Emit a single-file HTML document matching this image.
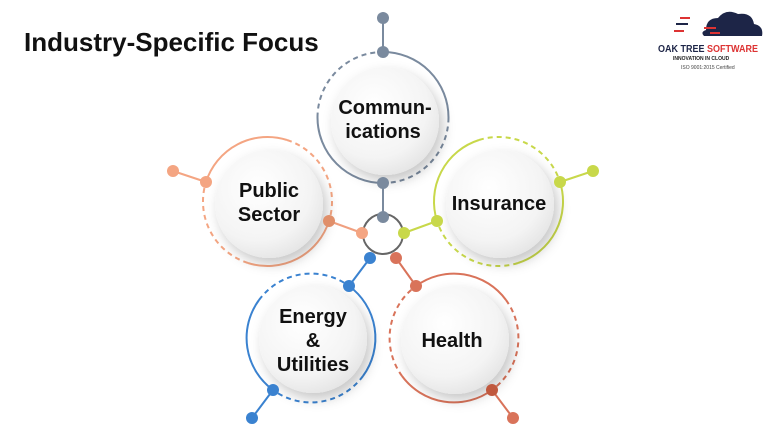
<!DOCTYPE html>
<html><head><style>
body{margin:0;width:768px;height:432px;overflow:hidden;background:#fff;font-family:"Liberation Sans",sans-serif}
</style></head><body>
<svg id="s" width="768" height="432" viewBox="0 0 768 432" xmlns="http://www.w3.org/2000/svg">
<defs>
<filter id="sh" x="-50%" y="-50%" width="200%" height="200%"><feDropShadow dx="4" dy="6" stdDeviation="6" flood-color="#000" flood-opacity="0.22"/></filter>
<radialGradient id="g" cx="40%" cy="35%" r="70%"><stop offset="0" stop-color="#fff"/><stop offset="0.7" stop-color="#f4f4f4"/><stop offset="1" stop-color="#e4e4e4"/></radialGradient>
</defs>
<text x="24" y="51" font-size="26" font-weight="bold" fill="#111">Industry-Specific Focus</text>
<g>
<path d="M706 30 q0-12 12-12 q8-10 20-4 q14-2 16 10 q10 2 8 12 h-58 q-4-4 2-6z" fill="#1d2547"/>
<rect x="680" y="17" width="10" height="2" fill="#d33"/><rect x="676" y="23" width="12" height="2" fill="#1d2547"/><rect x="674" y="30" width="10" height="2" fill="#d33"/><rect x="704" y="27" width="12" height="2" fill="#d33"/><rect x="710" y="32" width="10" height="2" fill="#d33"/>
<text x="658" y="52" font-size="10" font-weight="bold" fill="#1d2547" textLength="100" lengthAdjust="spacingAndGlyphs">OAK TREE <tspan fill="#d33">SOFTWARE</tspan></text>
<text x="673" y="60" font-size="5" font-weight="bold" fill="#222">INNOVATION IN CLOUD</text>
<text x="681" y="69" font-size="5" fill="#444">ISO 9001:2015 Certified</text>
</g>
<g stroke-width="2">
<line x1="383" y1="18" x2="383" y2="52" stroke="#7a8a9e"/>
<line x1="383" y1="183" x2="383" y2="217" stroke="#7a8a9e"/>
<line x1="173" y1="171" x2="206" y2="182" stroke="#f4a582"/>
<line x1="329" y1="221" x2="362" y2="233" stroke="#f0a080"/>
<line x1="593" y1="171" x2="560" y2="182" stroke="#c8d84a"/>
<line x1="437" y1="221" x2="404" y2="233" stroke="#c8d84a"/>
<line x1="370" y1="258" x2="349" y2="286" stroke="#3a82d0"/>
<line x1="273" y1="390" x2="252" y2="418" stroke="#3a82d0"/>
<line x1="396" y1="258" x2="416" y2="286" stroke="#d9735a"/>
<line x1="492" y1="390" x2="513" y2="418" stroke="#d9735a"/>
</g>
<circle cx="383" cy="234" r="20" fill="none" stroke="#666" stroke-width="2"/>
<g id="rings" fill="none" stroke-width="2"></g>
<g fill="url(#g)" filter="url(#sh)">
<circle cx="385" cy="121" r="54"/><circle cx="269" cy="204" r="54"/><circle cx="500" cy="204" r="54"/><circle cx="313" cy="339" r="54"/><circle cx="455" cy="340" r="54"/>
</g>
<g>
<circle cx="383" cy="18" r="6" fill="#7a8a9e"/><circle cx="383" cy="52" r="6" fill="#7a8a9e"/><circle cx="383" cy="183" r="6" fill="#7a8a9e"/><circle cx="383" cy="217" r="6" fill="#7a8a9e"/>
<circle cx="173" cy="171" r="6" fill="#f4a582"/><circle cx="206" cy="182" r="6" fill="#f4a582"/><circle cx="329" cy="221" r="6" fill="#e08f6a"/><circle cx="362" cy="233" r="6" fill="#f4a582"/>
<circle cx="593" cy="171" r="6" fill="#c8d84a"/><circle cx="560" cy="182" r="6" fill="#c8d84a"/><circle cx="437" cy="221" r="6" fill="#c8d84a"/><circle cx="404" cy="233" r="6" fill="#c8d84a"/>
<circle cx="370" cy="258" r="6" fill="#3a82d0"/><circle cx="349" cy="286" r="6" fill="#3a82d0"/><circle cx="273" cy="390" r="6" fill="#3a82d0"/><circle cx="252" cy="418" r="6" fill="#3a82d0"/>
<circle cx="396" cy="258" r="6" fill="#d9735a"/><circle cx="416" cy="286" r="6" fill="#d9735a"/><circle cx="492" cy="390" r="6" fill="#c0583e"/><circle cx="513" cy="418" r="6" fill="#d9735a"/>
</g>
<g font-size="20" font-weight="bold" fill="#111" text-anchor="middle">
<text x="385" y="114">Commun-</text><text x="383" y="138">ications</text>
<text x="269" y="197">Public</text><text x="269" y="221">Sector</text>
<text x="499" y="210">Insurance</text>
<text x="313" y="323">Energy</text><text x="313" y="347">&amp;</text><text x="313" y="371">Utilities</text>
<text x="452" y="347">Health</text>
</g>
</svg>
<script>
var rings=[[383,52,383,183,"#7a8a9e"],[206,182,329,221,"#f4a582"],[437,221,560,182,"#c8d84a"],[349,286,273,390,"#3a82d0"],[416,286,492,390,"#d9735a"]];
var g=document.getElementById("rings"),ns="http://www.w3.org/2000/svg";
rings.forEach(function(r){
 var cx=(r[0]+r[2])/2,cy=(r[1]+r[3])/2,R=Math.hypot(r[0]-cx,r[1]-cy),a=Math.atan2(r[1]-cy,r[0]-cx);
 for(var i=0;i<4;i++){
  var a1=a+i*Math.PI/2,a2=a1+Math.PI/2;
  var p=document.createElementNS(ns,"path");
  p.setAttribute("d","M"+(cx+R*Math.cos(a1))+" "+(cy+R*Math.sin(a1))+" A"+R+" "+R+" 0 0 1 "+(cx+R*Math.cos(a2))+" "+(cy+R*Math.sin(a2)));
  p.setAttribute("stroke",r[4]);
  if(i%2)p.setAttribute("stroke-dasharray","5 4");
  g.appendChild(p);
 }
});
</script>
</body></html>
